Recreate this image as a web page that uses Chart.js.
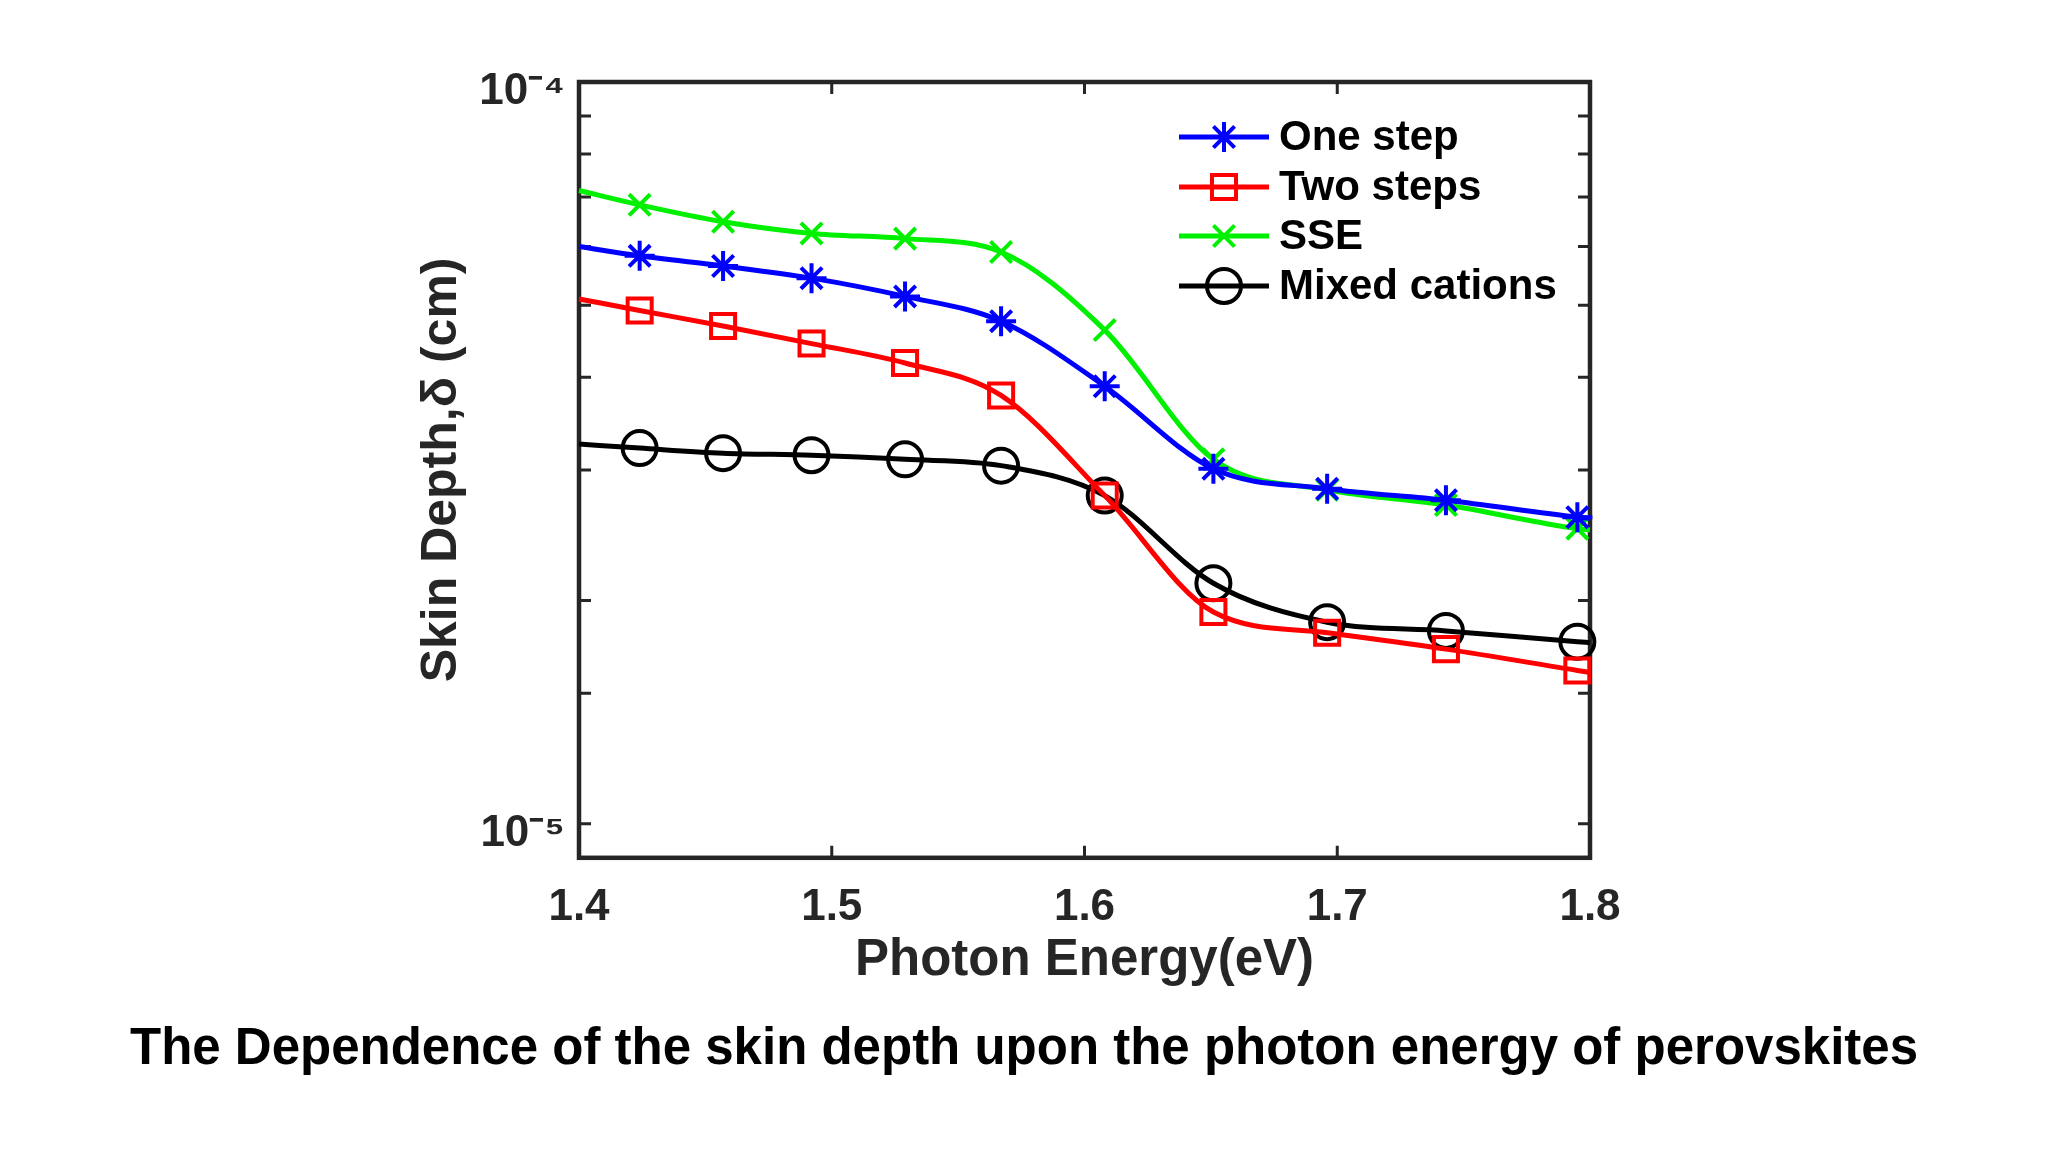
<!DOCTYPE html>
<html>
<head>
<meta charset="utf-8">
<script src="https://cdn.jsdelivr.net/npm/chart.js@4.4.1/dist/chart.umd.min.js"></script>
<style>
html,body{margin:0;padding:0;background:#ffffff;}
#wrap{width:2048px;height:1152px;}
</style>
</head>
<body>
<div id="wrap"><canvas id="c" width="2048" height="1152"></canvas></div>
<script>
// ---- data ----
const energy   = [1.400, 1.424, 1.457, 1.492, 1.529, 1.567, 1.608, 1.651, 1.696, 1.743, 1.795, 1.800];
const oneStep  = [6.00e-5, 5.83e-5, 5.65e-5, 5.44e-5, 5.14e-5, 4.76e-5, 3.89e-5, 3.01e-5, 2.83e-5, 2.73e-5, 2.59e-5, 2.58e-5];
const twoSteps = [5.10e-5, 4.92e-5, 4.69e-5, 4.44e-5, 4.18e-5, 3.78e-5, 2.77e-5, 1.93e-5, 1.81e-5, 1.72e-5, 1.61e-5, 1.60e-5];
const sse      = [7.14e-5, 6.83e-5, 6.48e-5, 6.25e-5, 6.15e-5, 5.90e-5, 4.63e-5, 3.10e-5, 2.82e-5, 2.69e-5, 2.50e-5, 2.49e-5];
const mixed    = [3.25e-5, 3.21e-5, 3.16e-5, 3.14e-5, 3.10e-5, 3.04e-5, 2.77e-5, 2.11e-5, 1.87e-5, 1.82e-5, 1.76e-5, 1.755e-5];
const seriesLabels = ['One step', 'Two steps', 'SSE', 'Mixed cations'];
const xTicks = [1.4, 1.5, 1.6, 1.7, 1.8];
const yMin = 9e-6, yMax = 1e-4;
const xTitle = 'Photon Energy(eV)';
const yTitle = 'Skin Depth,\u03B4 (cm)';
const caption = 'The Dependence of the skin depth upon the photon energy of perovskites';

const FONT = "'Liberation Sans', Arial, Helvetica, sans-serif";
const AXIS_COLOR = '#262626';

function toPoints(ys){ return energy.map((e,i)=>({x:e, y:ys[i]})); }
const lastIdx = energy.length - 1;
function radiusFn(r){ return ctx => (ctx.dataIndex === 0 || ctx.dataIndex === lastIdx) ? 0 : r; }

function mkSet(label, ys, color, style, r){
  return {
    label, data: toPoints(ys),
    borderColor: color, backgroundColor: 'rgba(0,0,0,0)',
    pointBorderColor: color, pointBackgroundColor: 'rgba(0,0,0,0)',
    borderWidth: 5, pointBorderWidth: 4,
    pointStyle: style, pointRadius: radiusFn(r), pointHoverRadius: radiusFn(r),
    cubicInterpolationMode: 'monotone', fill: false,
    clip: 8,
    _legendRadius: r
  };
}

const datasets = [
  mkSet(seriesLabels[0], oneStep,  '#0000ff', 'star', 15),
  mkSet(seriesLabels[1], twoSteps, '#ff0000', 'rect', 17),
  mkSet(seriesLabels[2], sse,      '#00f000', 'crossRot', 15),
  mkSet(seriesLabels[3], mixed,    '#000000', 'circle', 17)
];

const framePlugin = {
  id: 'frameAndLegend',
  afterLayout(chart){
    const t = chart.titleBlock;
    if (t){ t.left = 0; t.right = chart.width; t.width = chart.width; }
  },
  beforeDatasetsDraw(chart){
    const {ctx, chartArea: a, scales} = chart;
    const xs = scales.x, ys = scales.y;
    ctx.save();
    ctx.strokeStyle = AXIS_COLOR;
    ctx.lineWidth = 3;
    const TL = 12;
    xTicks.forEach(v => {
      const px = xs.getPixelForValue(v);
      if (px <= a.left + 2 || px >= a.right - 2) return;
      ctx.beginPath();
      ctx.moveTo(px, a.bottom); ctx.lineTo(px, a.bottom - TL);
      ctx.moveTo(px, a.top); ctx.lineTo(px, a.top + TL);
      ctx.stroke();
    });
    ys.ticks.forEach(t => {
      const py = ys.getPixelForValue(t.value);
      if (py <= a.top + 2 || py >= a.bottom - 2) return;
      ctx.beginPath();
      ctx.moveTo(a.left, py); ctx.lineTo(a.left + TL, py);
      ctx.moveTo(a.right, py); ctx.lineTo(a.right - TL, py);
      ctx.stroke();
    });
    ctx.lineWidth = 4.5;
    ctx.strokeRect(a.left, a.top, a.right - a.left, a.bottom - a.top);
    ctx.restore();
  },
  afterDatasetsDraw(chart){
    const {ctx} = chart;
    const x1 = 1179, x2 = 1269, tx = 1279;
    const rows = [137, 187, 236, 286];
    ctx.save();
    chart.data.datasets.forEach((ds, i) => {
      const y = rows[i];
      ctx.strokeStyle = ds.borderColor;
      ctx.lineWidth = ds.borderWidth;
      ctx.beginPath(); ctx.moveTo(x1, y); ctx.lineTo(x2, y); ctx.stroke();
      ctx.strokeStyle = ds.pointBorderColor;
      ctx.fillStyle = 'rgba(0,0,0,0)';
      ctx.lineWidth = ds.pointBorderWidth;
      Chart.helpers.drawPoint(ctx, {pointStyle: ds.pointStyle, radius: ds._legendRadius, rotation: 0, borderWidth: ds.pointBorderWidth}, (x1 + x2) / 2, y);
      ctx.fillStyle = '#000000';
      ctx.font = 'bold 42px ' + FONT;
      ctx.textAlign = 'left';
      ctx.textBaseline = 'middle';
      ctx.fillText(ds.label, tx, y + 1);
    });
    ctx.restore();
  }
};

new Chart(document.getElementById('c'), {
  type: 'line',
  data: { datasets },
  plugins: [framePlugin],
  options: {
    responsive: false,
    animation: false,
    events: [],
    layout: { padding: { left: 412, right: 458, top: 82, bottom: 71 } },
    plugins: {
      legend: { display: false },
      tooltip: { enabled: false },
      title: {
        display: true, position: 'bottom', text: caption,
        color: '#000000',
        font: { family: FONT, size: 51, weight: 'bold' },
        padding: { top: 28, bottom: 0 }
      }
    },
    scales: {
      x: {
        type: 'linear', min: 1.4, max: 1.8,
        grid: { display: false }, border: { display: false },
        afterBuildTicks: (scale) => { scale.ticks = xTicks.map(v => ({ value: v })); },
        afterFit: (scale) => { scale.height = 134; },
        ticks: {
          color: AXIS_COLOR, padding: 16, autoSkip: false, maxRotation: 0,
          font: { family: FONT, size: 44, weight: 'bold' },
          callback: (v) => Number(v).toFixed(1)
        },
        title: {
          display: true, text: xTitle, color: AXIS_COLOR,
          font: { family: FONT, size: 51, weight: 'bold' },
          padding: { top: 0, bottom: 0 }
        }
      },
      y: {
        type: 'logarithmic', min: yMin, max: yMax,
        grid: { display: false }, border: { display: false },
        afterFit: (scale) => { scale.width = 167; },
        ticks: {
          color: AXIS_COLOR, padding: 6, autoSkip: false, labelOffset: 10,
          font: { family: FONT, size: 44, weight: 'bold' },
          callback: (v) => {
            const l = Math.log10(v);
            if (Math.abs(l - Math.round(l)) > 1e-6) return '';
            const sup = {'-':'\u207B','0':'\u2070','1':'\u00B9','2':'\u00B2','3':'\u00B3','4':'\u2074','5':'\u2075','6':'\u2076','7':'\u2077','8':'\u2078','9':'\u2079'};
            return '10' + String(Math.round(l)).split('').map(c => sup[c]).join('');
          }
        },
        title: {
          display: true, text: yTitle, color: AXIS_COLOR,
          font: { family: FONT, size: 50, weight: 'bold' },
          padding: { top: 0, bottom: 0 }
        }
      }
    }
  }
});
</script>
</body>
</html>
